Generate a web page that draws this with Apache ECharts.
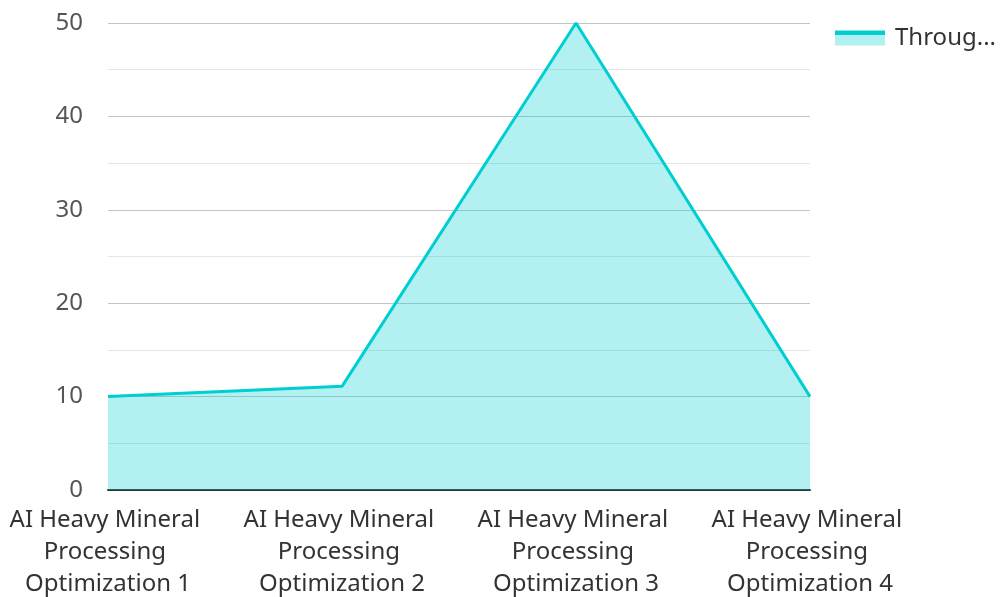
<!DOCTYPE html>
<html>
<head>
<meta charset="utf-8">
<script src="https://cdn.jsdelivr.net/npm/echarts@6/dist/echarts.min.js"></script>
<style>
  html, body { margin: 0; padding: 0; background: #fff; }
  #chart { width: 1000px; height: 597px; }
</style>
</head>
<body>
<div id="chart"></div>
<script>
const categories = [
  'AI Heavy Mineral Processing Optimization 1',
  'AI Heavy Mineral Processing Optimization 2',
  'AI Heavy Mineral Processing Optimization 3',
  'AI Heavy Mineral Processing Optimization 4'
];
const throughput = [10, 11.1, 50, 10];
const seriesName = 'Throughput Improvement (%)';

// legend swatch: solid line on top of a pale area
const legendSwatch = new echarts.graphic.LinearGradient(0, 0, 0, 1, [
  { offset: 0, color: '#00CED1' },
  { offset: 0.27, color: '#00CED1' },
  { offset: 0.27, color: '#B3F0F1' },
  { offset: 1, color: '#B3F0F1' }
]);

const chart = echarts.init(document.getElementById('chart'));
chart.setOption({
  animation: false,
  textStyle: { fontFamily: 'Noto Sans' },
  legend: {
    left: 835,
    top: 26,
    padding: 0,
    icon: 'rect',
    itemWidth: 50,
    itemHeight: 15,
    itemGap: 10,
    itemStyle: { color: legendSwatch },
    textStyle: { fontSize: 24, color: '#333', width: 112, overflow: 'truncate', padding: [0, 0, 14, 5] },
    data: [seriesName]
  },
  grid: { left: 108, right: 190, top: 23, bottom: 107, outerBoundsMode: 'none' },
  xAxis: {
    type: 'category',
    data: categories,
    boundaryGap: false,
    axisLine: { lineStyle: { color: '#333', width: 2 } },
    axisTick: { show: false },
    axisLabel: {
      interval: 0,
      fontSize: 24,
      color: '#333',
      lineHeight: 32,
      margin: 14,
      width: 215,
      overflow: 'break'
    }
  },
  yAxis: {
    type: 'value',
    min: 0,
    max: 50,
    interval: 10,
    axisLine: { show: false },
    axisTick: { show: false },
    axisLabel: { fontSize: 24, color: '#555', margin: 25 },
    splitLine: { lineStyle: { color: '#c4c4c4', width: 1 } },
    minorTick: { show: false, splitNumber: 2 },
    minorSplitLine: { show: true, lineStyle: { color: '#e6e6e6', width: 1 } }
  },
  series: [{
    name: seriesName,
    type: 'line',
    data: throughput,
    showSymbol: false,
    lineStyle: { color: '#00CED1', width: 3 },
    itemStyle: { color: '#00CED1' },
    areaStyle: { color: '#00CED1', opacity: 0.3 }
  }]
});
</script>
</body>
</html>
